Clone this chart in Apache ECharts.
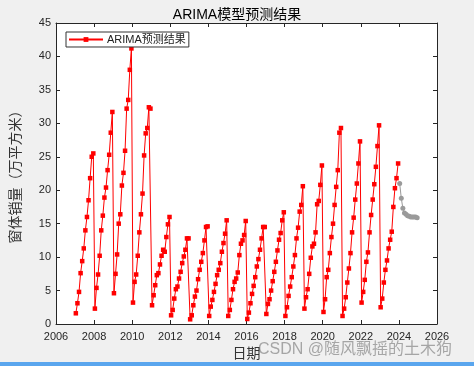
<!DOCTYPE html>
<html>
<head>
<meta charset="utf-8">
<script src="https://cdn.jsdelivr.net/npm/echarts@6/dist/echarts.min.js"></script>
<style>
html,body{margin:0;padding:0;background:#f0f0f0;}
#chart{width:474px;height:366px;}
</style>
</head>
<body>
<div id="chart"></div>
<script>
// ---- data ----
const firstYear = 2007;
const actualByYear = [
  [1.6, 3.1, 4.8, 7.6, 9.4, 11.3, 14.0, 16.0, 18.5, 21.8, 25.0, 25.5],   // 2007
  [2.3, 5.4, 7.4, 10.2, 14.0, 16.2, 18.9, 20.4, 23.0, 25.3, 28.6, 31.7], // 2008
  [4.6, 7.5, 10.4, 15.0, 16.4, 20.7, 22.6, 25.9, 32.2, 33.5, 38.0, 41.2],// 2009
  [3.2, 6.3, 7.4, 10.2, 13.7, 16.4, 19.5, 25.2, 28.5, 29.3, 32.4, 32.2], // 2010
  [2.8, 4.3, 5.8, 7.3, 7.6, 8.9, 10.2, 11.1, 10.8, 13.0, 14.9, 16.0],    // 2011
  [1.3, 2.1, 3.8, 5.2, 5.6, 6.8, 7.8, 9.1, 10.1, 11.1, 12.8, 12.8],      // 2012
  [0.7, 1.3, 2.8, 4.1, 5.0, 6.7, 8.1, 9.3, 10.6, 12.5, 14.5, 14.6],      // 2013
  [1.2, 2.6, 3.6, 4.8, 6.0, 7.3, 8.1, 9.1, 10.8, 12.1, 13.5, 15.5],      // 2014
  [1.2, 2.1, 3.6, 5.2, 6.3, 6.8, 7.7, 10.3, 12.0, 12.5, 13.3, 15.4],     // 2015
  [0.75, 1.7, 3.1, 4.5, 5.7, 7.0, 8.6, 9.7, 11.1, 12.8, 14.5, 14.5],     // 2016
  [1.5, 3.0, 3.7, 5.0, 6.4, 7.8, 9.3, 11.0, 12.6, 13.6, 15.5, 16.7],     // 2017
  [1.2, 2.5, 4.2, 5.6, 7.0, 8.6, 10.3, 12.8, 14.4, 16.8, 17.8, 20.6],    // 2018
  [2.3, 4.0, 5.2, 7.5, 9.9, 11.6, 12.0, 13.7, 17.9, 18.4, 20.8, 23.7],   // 2019
  [1.8, 3.7, 7.0, 8.1, 10.6, 13.0, 15.0, 17.8, 20.5, 23.0, 28.6, 29.3],  // 2020
  [1.2, 2.3, 4.0, 6.2, 8.3, 10.6, 13.7, 15.9, 18.6, 21.0, 24.0, 27.3],   // 2021
  [3.2, 4.8, 6.6, 9.3, 10.7, 13.7, 16.3, 18.6, 20.9, 23.5, 26.6, 29.7],  // 2022
  [2.5, 3.8, 6.2, 8.1, 9.5, 11.3, 12.6, 13.8, 17.5, 20.3, 21.8, 24.0]    // 2023
];
const forecastYear = 2024;
const forecastValues = [21.0, 18.8, 17.3, 16.6, 16.4, 16.2, 16.1, 16.0, 16.0, 16.0, 16.0, 15.9];
const xTicks = [2006, 2026, 2];   // min, max, step
const yTicks = [0, 45, 5];

const titleText = 'ARIMA模型预测结果';
const legendText = 'ARIMA预测结果';
const xName = '日期';
const yName = '窗体销量（万平方米）';
const watermark = 'CSDN @随风飘摇的土木狗';

// ---- build series points (x = decimal year, month centred) ----
const actualPts = [];
actualByYear.forEach((vals, yi) => {
  vals.forEach((v, m) => actualPts.push([firstYear + yi + (m + 0.5) / 12, v]));
});
const forecastPts = forecastValues.map((v, m) => [forecastYear + (m + 0.5) / 12, v]);

const FONT = '"Liberation Sans", Arial, "Noto Sans CJK SC", sans-serif';
const AX = '#262626';

const chart = echarts.init(document.getElementById('chart'), null, {renderer: 'canvas'});
const baseX = {
  type: 'value', min: xTicks[0], max: xTicks[1], interval: xTicks[2],
  axisLine: {show: true, onZero: false, lineStyle: {color: AX, width: 1}},
  axisTick: {show: true, inside: true, length: 4, lineStyle: {color: AX}},
  splitLine: {show: false}
};
const baseY = {
  type: 'value', min: yTicks[0], max: yTicks[1], interval: yTicks[2],
  axisLine: {show: true, onZero: false, lineStyle: {color: AX, width: 1}},
  axisTick: {show: true, inside: true, length: 4, lineStyle: {color: AX}},
  splitLine: {show: false}
};

chart.setOption({
  backgroundColor: '#f0f0f0',
  animation: false,
  textStyle: {fontFamily: FONT},
  title: {
    text: titleText, left: 'center', top: 3,
    textStyle: {fontSize: 14, fontWeight: 'normal', color: '#000', fontFamily: FONT}
  },
  grid: {left: 56, right: 37, top: 23, bottom: 42, show: true, backgroundColor: '#fff', borderWidth: 0},
  legend: {
    data: [legendText], left: 66, top: 32, orient: 'vertical',
    backgroundColor: '#fff', borderColor: '#333', borderWidth: 1, borderRadius: 0,
    padding: [2, 3, 2, 2], itemWidth: 34, itemHeight: 6, itemGap: 0,
    textStyle: {fontSize: 11, color: '#222', fontFamily: FONT, padding: [0, 0, 0, -1]}
  },
  xAxis: [
    Object.assign({}, baseX, {
      position: 'bottom', name: xName, nameLocation: 'middle', nameGap: 22,
      nameTextStyle: {fontSize: 14, color: '#333', fontFamily: FONT},
      axisLabel: {show: true, color: AX, fontSize: 11, margin: 7, fontFamily: FONT,
                  formatter: v => String(v)}
    }),
    Object.assign({}, baseX, {position: 'top', axisLabel: {show: false}})
  ],
  yAxis: [
    Object.assign({}, baseY, {
      position: 'left', name: yName, nameLocation: 'middle', nameGap: 33,
      nameTextStyle: {fontSize: 14, color: '#333', fontFamily: FONT},
      axisLabel: {show: true, color: AX, fontSize: 11, margin: 5, fontFamily: FONT,
                  formatter: v => String(v)}
    }),
    Object.assign({}, baseY, {position: 'right', axisLabel: {show: false}})
  ],
  series: [
    {
      name: legendText, type: 'line', data: actualPts,
      symbol: 'rect', symbolSize: 4.5, showAllSymbol: true,
      itemStyle: {color: '#ff0000'},
      lineStyle: {color: '#ff0000', width: 1}
    },
    {
      name: '预测', type: 'line', data: forecastPts,
      symbol: 'circle', symbolSize: 5, showAllSymbol: true,
      itemStyle: {color: '#9a9a9a'},
      lineStyle: {color: '#9a9a9a', width: 1}
    }
  ],
  graphic: [
    {
      type: 'text', left: 258, top: 342, silent: true,
      style: {text: watermark, fill: 'rgba(140,140,140,0.75)', font: '16px ' + FONT}
    },
    {
      type: 'rect', left: 0, top: 362, silent: true,
      shape: {width: 474, height: 4}, style: {fill: '#5aa6ee'}
    }
  ]
});
</script>
</body>
</html>
